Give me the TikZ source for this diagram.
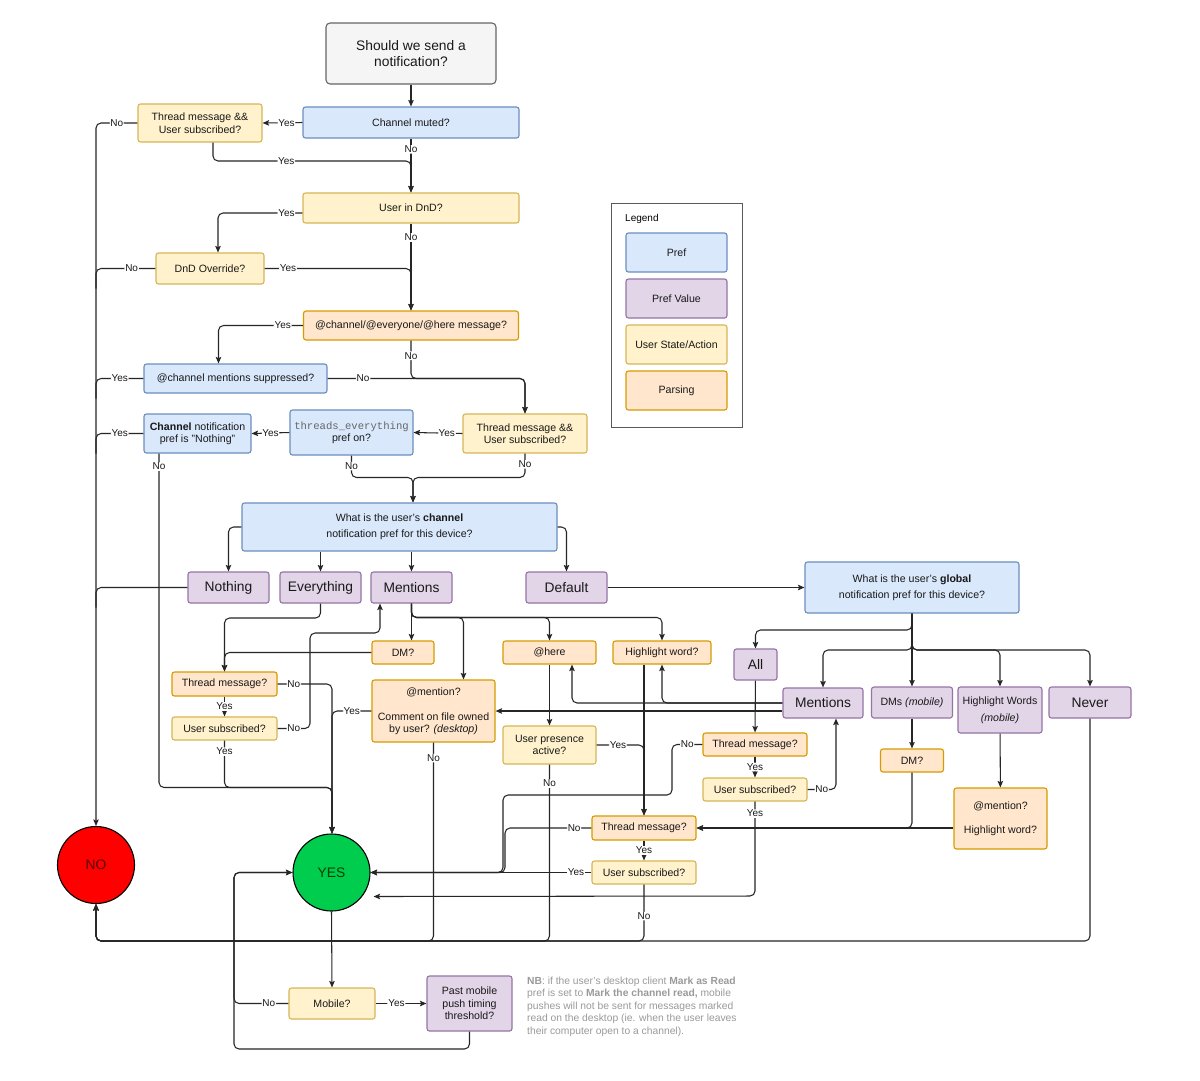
\documentclass[tikz,border=0pt]{standalone}
\usepackage{fontspec}
\setmainfont{Liberation Sans}
\newfontfamily\monof{Liberation Mono}
\usetikzlibrary{arrows.meta,calc}
\definecolor{blueF}{HTML}{DAE8FC}\definecolor{blueD}{HTML}{6C8EBF}
\definecolor{purF}{HTML}{E1D5E7}\definecolor{purD}{HTML}{9673A6}
\definecolor{yelF}{HTML}{FFF2CC}\definecolor{yelD}{HTML}{D6B656}
\definecolor{orF}{HTML}{FFE6CC}\definecolor{orD}{HTML}{D79B00}
\definecolor{grF}{HTML}{F5F5F5}\definecolor{grD}{HTML}{666666}
\definecolor{linec}{HTML}{262626}
\definecolor{nbc}{HTML}{9A9A9A}
\definecolor{yesF}{HTML}{00CC4D}
\definecolor{noF}{HTML}{FF0000}
\tikzset{
  box/.style={rectangle, rounded corners=2.5pt, line width=1.1pt, align=center, inner sep=1pt,
    font=\fontsize{10.6}{12.5}\selectfont, text=black!90},
  bl/.style={box, fill=blueF, draw=blueD},
  pu/.style={box, fill=purF, draw=purD},
  ye/.style={box, fill=yelF, draw=yelD},
  orx/.style={box, fill=orF, draw=orD},
  big/.style={font=\fontsize{13.8}{16}\selectfont},
  sz/.style 2 args={minimum width=#1pt, minimum height=#2pt},
  ln/.style={draw=linec, line width=1.05pt, rounded corners=5pt},
  ar/.style={ln, -{Stealth[length=6.5pt,width=5.5pt,inset=1.2pt]}},
  lbl/.style={fill=white, inner sep=0.8pt, font=\fontsize{10}{11}\selectfont, text=black!90},
  endc/.style={circle, draw=black, line width=1.1pt, minimum size=77pt, inner sep=0pt, font=\fontsize{13.8}{16}\selectfont}
}
\begin{document}
\begin{tikzpicture}[x=1pt,y=-1pt]
\useasboundingbox (0,0) rectangle (1200,1080);
\fill[white] (0,0) rectangle (1200,1080);

% ---------- nodes ----------
\node[box, fill=grF, draw=grD, sz={170}{61}, big, rounded corners=4pt] (start) at (411,53.5) {Should we send a\\notification?};
\node[bl, sz={216}{31}] (muted) at (411,122.5) {Channel muted?};
\node[ye, sz={124}{38}] (tm1) at (200,123) {Thread message \&\&\\User subscribed?};
\node[ye, sz={216}{30}] (dnd) at (411,208) {User in DnD?};
\node[ye, sz={108}{31}] (dndo) at (210,268.5) {DnD Override?};
\node[orx, sz={215}{29}] (atch) at (411,325.5) {@channel/@everyone/@here message?};
\node[bl, sz={183}{29}] (sup) at (235.5,378.5) {@channel mentions suppressed?};
\node[ye, sz={124}{39}] (tm2) at (525,433.5) {Thread message \&\&\\User subscribed?};
\node[bl, sz={123}{45}] (thr) at (351.5,432.5) {{\monof\color{black!60}threads\_everything}\\pref on?};
\node[bl, sz={107}{39}] (chn) at (197.5,433.5) {\textbf{Channel} notification\\pref is "Nothing"};
\node[bl, sz={315}{48}, font=\fontsize{10.6}{16}\selectfont] (chq) at (399.5,527) {What is the user's \textbf{channel}\\notification pref for this device?};
\node[pu, sz={81}{31}, big] (nothing) at (228.5,587.5) {Nothing};
\node[pu, sz={81}{31}, big] (everything) at (320.5,587.5) {Everything};
\node[pu, sz={81}{31}, big] (mentions) at (411.5,587.5) {Mentions};
\node[pu, sz={81}{31}, big] (default) at (566.5,587.5) {Default};
\node[bl, sz={214}{51}, font=\fontsize{10.6}{16}\selectfont] (gq) at (912,587.5) {What is the user's \textbf{global}\\notification pref for this device?};
\node[orx, sz={62}{23}] (dm1) at (403,652.5) {DM?};
\node[orx, sz={93}{23}] (here) at (549.5,652.5) {@here};
\node[orx, sz={98}{23}] (hw1) at (662,652.5) {Highlight word?};
\node[pu, sz={43}{31}, big] (all) at (755.5,664.5) {All};
\node[orx, sz={105}{24}] (tm3) at (224.5,684) {Thread message?};
\node[ye, sz={105}{23}] (us3) at (224.5,728.5) {User subscribed?};
\node[orx, sz={123}{62}] (atm) at (433.5,711) {@mention?\\[12.5pt]Comment on file owned\\by user? \textit{(desktop)}};
\node[pu, sz={80}{30}, big] (mentions2) at (823,703) {Mentions};
\node[pu, sz={81}{31}] (dms) at (912,702.5) {DMs \textit{(mobile)}};
\node[pu, sz={84}{46}, font=\fontsize{10.6}{17}\selectfont] (hws) at (1000,710) {Highlight Words\\\textit{(mobile)}};
\node[pu, sz={82}{31}, big] (never) at (1090,702.5) {Never};
\node[ye, sz={93}{38}] (upa) at (549.5,745) {User presence\\active?};
\node[orx, sz={104}{23}] (tm4) at (755,744.5) {Thread message?};
\node[ye, sz={104}{23}] (us4) at (755,789.5) {User subscribed?};
\node[orx, sz={63}{23}] (dm2) at (912,760.5) {DM?};
\node[orx, sz={93}{61}, font=\fontsize{10.6}{12}\selectfont] (amh) at (1000.5,818.5) {@mention?\\[12pt]Highlight word?};
\node[orx, sz={104}{24}] (tm5) at (644,828) {Thread message?};
\node[ye, sz={104}{23}] (us5) at (644,872.5) {User subscribed?};
\node[endc, fill=noF, text=red!35!black] (no) at (96,865) {NO};
\node[endc, fill=yesF, text=black!75!green] (yes) at (331.5,872.5) {YES};
\node[ye, sz={86}{31}] (mobile) at (332,1003.5) {Mobile?};
\node[pu, sz={85}{55}] (past) at (469.5,1003.5) {Past mobile\\push timing\\threshold?};
\node[anchor=north west, align=left, text=nbc, inner sep=0pt, font=\fontsize{10.3}{12.6}\selectfont] (nb) at (527,976.5)
  {\textbf{NB}: if the user's desktop client \textbf{Mark as Read}\\
   pref is set to \textbf{Mark the channel read,} mobile\\
   pushes will not be sent for messages marked\\
   read on the desktop (ie. when the user leaves\\
   their computer open to a channel).};

% legend
\node[draw=black!65, line width=0.9pt, minimum width=131pt, minimum height=224pt, inner sep=0pt] (legend) at (676.5,315) {};
\node[anchor=west, inner sep=0pt, font=\fontsize{10}{12}\selectfont] (legt) at (625,219) {Legend};
\node[bl, sz={101}{39}] (lg1) at (676.5,252.5) {Pref};
\node[pu, sz={101}{39}] (lg2) at (676.5,298.5) {Pref Value};
\node[ye, sz={101}{39}] (lg3) at (676.5,344.5) {User State/Action};
\node[orx, sz={101}{39}] (lg4) at (676.5,390.5) {Parsing};

% ---------- helper coordinates ----------
\coordinate (railL) at (96,0);
\coordinate (yJ) at (0,787.5);
\coordinate (yB) at (0,941);
\coordinate (m617) at (0,617.5);
\coordinate (m618) at (0,618);
\coordinate (r630) at (0,630);
\coordinate (r650) at (0,650);
\coordinate (r633) at (0,633);
\coordinate (r896) at (0,896);
\coordinate (r1049) at (0,1049);
\coordinate (r161) at (0,161);
\coordinate (mg) at (0,477.5);
\coordinate (xL) at (234,0);
\coordinate (x310) at (310,0);
\coordinate (x672) at (672,0);
\coordinate (x503) at (503,0);
\coordinate (x505) at (505,0);
\coordinate (r795) at (0,795);
\coordinate (dndoT) at ([xshift=8pt]dndo.north);
\coordinate (supT) at ([xshift=-17pt]sup.north);
\coordinate (chqT) at ([xshift=13.5pt]chq.north);
\coordinate (chnB) at ([xshift=-38.5pt]chn.south);
\coordinate (yesV) at ([xshift=0.5pt]yes.north);
\coordinate (atmT) at ([xshift=30pt]atm.north);
\coordinate (mB) at ([xshift=-31.5pt]mentions.south);
\coordinate (hereB) at ([xshift=22.5pt]here.south);
\coordinate (m2B) at ([xshift=13pt]mentions2.south);
\coordinate (yesE2) at ([shift={(3,24)}]yes.east);

% ---------- connectors ----------
\draw[ar] (start) -- (muted);
\draw[ar] (muted.west) -- node[lbl,pos=0.4]{Yes} (tm1.east);
\draw[ar] (tm1.west) -- node[lbl]{No} (railL |- tm1.west) -- (no.north);
\draw[ar] ([xshift=13pt]tm1.south) -- ([xshift=13pt]tm1.south |- r161) -- node[lbl,pos=0.37]{Yes} (muted.south |- r161) -- (dnd.north);
\draw[ar] (muted.south) -- node[lbl,pos=0.2]{No} (dnd.north);
\draw[ar] ([yshift=-5pt]dnd.west) -- node[lbl,pos=0.19]{Yes} ([yshift=-5pt]dnd.west -| dndoT) -- (dndoT);
\draw[ar] (dnd.south) -- node[lbl,pos=0.16]{No} (atch.north);
\draw[ar] (dndo.east) -- node[lbl,pos=0.16]{Yes} (dndo.east -| dnd.south) -- (atch.north);
\draw[ln] (dndo.west) -- node[lbl,pos=0.4]{No} (railL |- dndo.west) -- ([yshift=-20pt]railL |- dndo.west);
\draw[ar] (atch.west) -- node[lbl,pos=0.24]{Yes} (atch.west -| supT) -- (supT);
\draw[ar] (atch.south) -- node[lbl,pos=0.4]{No} (atch.south |- sup.east) -| (tm2.north);
\draw[ar] (sup.east) -- node[lbl,pos=0.18]{No} (sup.east -| tm2.north) -- (tm2.north);
\draw[ln] (sup.west) -- node[lbl]{Yes} (railL |- sup.west) -- ([yshift=-20pt]railL |- sup.west);
\draw[ar] (tm2.west) -- node[lbl,pos=0.32]{Yes} (thr.east);
\draw[ar] (thr.west) -- node[lbl]{Yes} (chn.east);
\draw[ln] (chn.west) -- node[lbl]{Yes} (railL |- chn.west) -- ([yshift=-20pt]railL |- chn.west);
\draw[ar] (tm2.south) -- node[lbl,pos=0.45]{No} (tm2.south |- mg) -- (chqT |- mg) -- (chqT);
\draw[ar] (thr.south) -- node[lbl,pos=0.48]{No} (thr.south |- mg) -- (chqT |- mg) -- (chqT);
\draw[ar] (chnB) -- node[lbl]{No} ([yshift=-26pt]chnB) -- (chnB |- yJ) -- (yesV |- yJ) -- (yesV);
\draw[ar] (chq.west) -| (nothing.north);
\draw[ar] (chq.south -| everything) -- (everything.north);
\draw[ar] (chq.south -| mentions) -- (mentions.north);
\draw[ar] (chq.east) -| (default.north);
\draw[ln] (nothing.west) -- (railL |- nothing.west) -- ([yshift=-20pt]railL |- nothing.west);
\draw[ar] (everything.south) -- (everything.south |- m618) -| (tm3.north);
\draw[ar] (mentions.south) -- (mentions.south |- dm1.north);
\draw[ar] (mentions.south) -- (mentions.south |- m617) -| (atmT);
\draw[ar] (mentions.south) -- (mentions.south |- m617) -| (here.north);
\draw[ar] (mentions.south) -- (mentions.south |- m617) -| (hw1.north);
\draw[ar] (dm1.west) -| (tm3.north);
\draw[ar] (tm3.east) -- node[lbl,pos=0.3]{No} (yesV |- tm3.east) -- (yesV);
\draw[ar] (tm3.south) -- node[lbl]{Yes} (us3.north);
\draw[ar] (us3.east) -- node[lbl]{No} (x310 |- us3.east) -- (x310 |- r633) -- (mB |- r633) -- (mB);
\draw[ar] (us3.south) -- node[lbl]{Yes} ([yshift=-22pt]us3.south) -- (us3.south |- yJ) -- (yesV |- yJ) -- (yesV);
\draw[ar] (atm.west) -- node[lbl]{Yes} (yesV |- atm.west) -- (yesV);
\draw[ar] (atm.south) -- node[lbl]{No} ([yshift=-31pt]atm.south) -- (atm.south |- yB) -| (no.south);
\draw[ar] (here) -- (upa);
\draw[ar] (hw1.south -| tm5.north) -- (tm5.north);
\draw[ar] (upa.east) -- node[lbl,pos=0.45]{Yes} (upa.east -| tm5.north) -- (tm5.north);
\draw[ar] (upa.south) -- node[lbl]{No} ([yshift=-38pt]upa.south) -- (upa.south |- yB) -| (no.south);
\draw[ar] (gq.south) -- (gq.south |- r630) -| (all.north);
\draw[ar] (gq.south) -- (gq.south |- r650) -| (mentions2.north);
\draw[ar] (gq.south) -- (dms.north);
\draw[ar] (gq.south) -- (gq.south |- r650) -| (hws.north);
\draw[ar] (gq.south) -- (gq.south |- r650) -| (never.north);
\draw[ar] (mentions2.west) -| (hw1.south);
\draw[ar] (mentions2.west) -| (hereB);
\draw[ar] (mentions2.west |- atm.east) -- (atm.east);
\draw[ar] (all) -- (tm4);
\draw[ar] (tm4.west) -- node[lbl]{No} (x672 |- tm4.west) -- (x672 |- r795) -- (x503 |- r795) -- (x503 |- yes.east) -- (yes.east);
\draw[ar] (tm4.south) -- node[lbl]{Yes} (us4.north);
\draw[ar] (us4.east) -- node[lbl]{No} (us4.east -| m2B) -- (m2B);
\draw[ar] (us4.south) -- node[lbl]{Yes} ([yshift=-24pt]us4.south) -- (us4.south |- r896) -- (yesE2);
\draw[ar] (dm2.south) |- (tm5.east);
\draw[ar] (amh.west |- tm5.east) -- (tm5.east);
\draw[ar] (dms) -- (dm2);
\draw[ar] (hws) -- (amh);
\draw[ar] (never.south) -- (never.south |- yB) -| (no.south);
\draw[ar] (tm5.west) -- node[lbl,pos=0.2]{No} (x505 |- tm5.west) -- (x505 |- yes.east) -- (yes.east);
\draw[ar] (tm5.south) -- node[lbl]{Yes} (us5.north);
\draw[ar] (us5.west) -- node[lbl,pos=0.07]{Yes} (yes.east);
\draw[ar] (us5.south) -- node[lbl,pos=0.56]{No} (us5.south |- yB) -| (no.south);
\draw[ar] (default.east) -- (gq.west);
\draw[ar] (yes.south) -- (mobile.north);
\draw[ar] (mobile.west) -- node[lbl,pos=0.36]{No} (xL |- mobile.west) -- (xL |- yes.west) -- (yes.west);
\draw[ar] (mobile.east) -- node[lbl,pos=0.41]{Yes} (past.west);
\draw[ar] (past.south) -- (past.south |- r1049) -- (xL |- r1049) -- (xL |- yes.west) -- (yes.west);
\end{tikzpicture}
\end{document}
